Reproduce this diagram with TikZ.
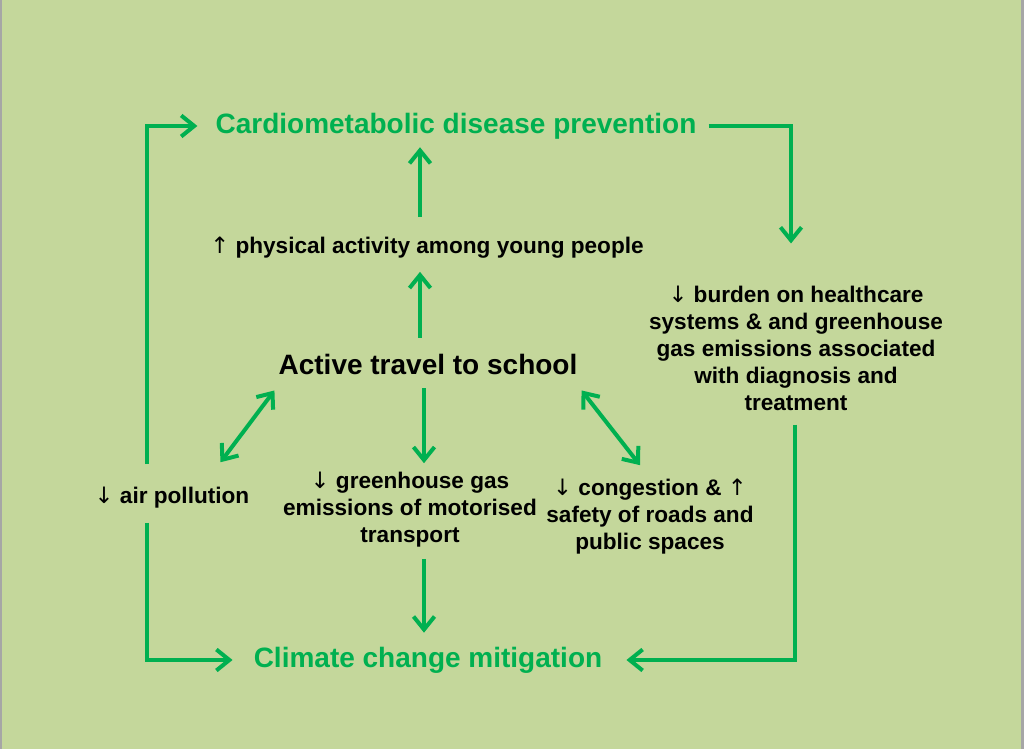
\documentclass[tikz,border=0pt]{standalone}
\usepackage{fontspec}
\setmainfont{Liberation Sans}
\newfontfamily\arrfont{DejaVu Sans}
\usepackage{tikz}
\usetikzlibrary{arrows.meta,positioning,calc}
\definecolor{bgleaf}{HTML}{C4D79B}
\definecolor{arrgreen}{HTML}{00B050}
\newcommand{\dnarr}{{\arrfont\mdseries ↓}}
\newcommand{\uparr}{{\arrfont\mdseries ↑}}

\begin{document}
\begin{tikzpicture}[x=1pt, y=1pt,
  lbl/.style={inner sep=0pt, align=center,
              font=\fontsize{22.6}{27}\selectfont\bfseries},
  ttl/.style={inner sep=0pt, font=\fontsize{28}{34}\selectfont\bfseries,
              text=arrgreen},
  hub/.style={inner sep=0pt, font=\fontsize{28}{34}\selectfont\bfseries},
  arr/.style={-{Straight Barb[length=13pt,width=21pt]}, line width=4pt, arrgreen},
  darr/.style={{Straight Barb[length=13pt,width=21pt]}-{Straight Barb[length=13pt,width=21pt]},
               line width=4pt, arrgreen},
]
  % Page
  \fill[bgleaf] (0,0) rectangle (1024,749);
  \fill[gray!70] (0,0) rectangle (2,749);
  \fill[gray!70] (1021,0) rectangle (1024,749);

  % Outcomes
  \node[ttl] (cardio) at (456,623) {Cardiometabolic disease prevention};
  \node[ttl] (climate) at (428,89) {Climate change mitigation};

  % Centre and pathways
  \node[hub] (active) at (428,385) {Active travel to school};
  \node[lbl] (phys) at (427,501) {\uparr\ physical activity among young people};
  \node[lbl] (air) at (172,251) {\dnarr\ air pollution};
  \node[lbl] (ghg) at (410,239) {\dnarr\ greenhouse gas\\emissions of motorised\\transport};
  \node[lbl] (cong) at (650,232) {\dnarr\ congestion \& \uparr\\safety of roads and\\public spaces};
  \node[lbl] (burden) at (796,401) {\dnarr\ burden on healthcare\\systems \& and greenhouse\\gas emissions associated\\with diagnosis and\\treatment};

  % Loop round the outside
  \draw[arr] ([shift={(-25,23)}]air.north) |- ([xshift=-18pt]cardio.west);
  \draw[arr] ([shift={(-25,-14)}]air.south) |- ([xshift=-21pt]climate.west);
  \draw[arr] ([xshift=12pt]cardio.east) -| ([shift={(-5,42)}]burden.north);
  \draw[arr] ([shift={(-1,-14)}]burden.south) |- ([xshift=24pt]climate.east);

  % Straight up and down
  \draw[arr, shorten <=16pt, shorten >=13pt] ([xshift=-8pt]active.north) -- ([xshift=-8pt]active.north |- phys.south);
  \draw[arr, shorten <=20pt, shorten >=8pt] ([xshift=-7pt]phys.north) -- ([xshift=-7pt]phys.north |- cardio.south);
  \draw[arr, shorten <=14pt, shorten >=9pt] ([xshift=-4pt]active.south) -- ([xshift=-4pt]active.south |- ghg.north);
  \draw[arr, shorten <=11pt, shorten >=14pt] ([xshift=14pt]ghg.south) -- ([xshift=14pt]ghg.south |- climate.north);

  % Both ways
  \draw[darr] ([shift={(-29,25)}]air.north east) -- ([shift={(-4,-16)}]active.south west);
  \draw[darr] ([shift={(4,-16)}]active.south east) -- ([shift={(-10,14)}]cong.north);
\end{tikzpicture}
\end{document}
